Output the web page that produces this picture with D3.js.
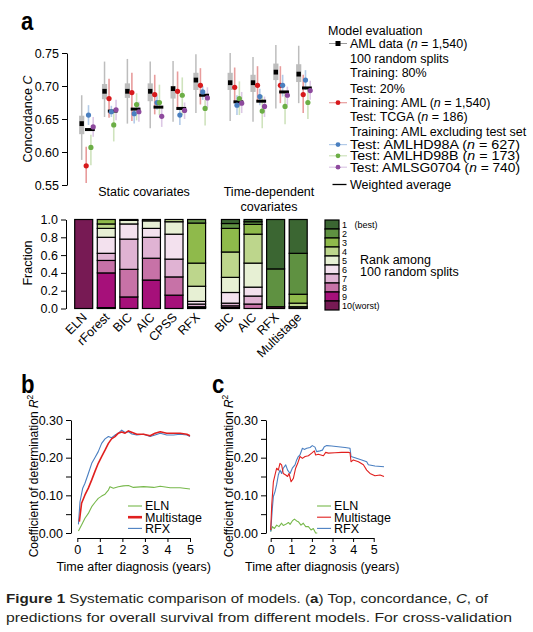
<!DOCTYPE html>
<html>
<head>
<meta charset="utf-8">
<script src="https://cdn.jsdelivr.net/npm/d3@7"></script>
<style>
  body { margin: 0; background: #fff; }
  svg { display: block; font-family: "Liberation Sans", Arial, sans-serif; }
  .axis text { font-size: 12.5px; font-family: "Liberation Sans", Arial, sans-serif; fill: #000; }
  .axis path, .axis line { stroke: #000; stroke-width: 1; }
</style>
</head>
<body>
<svg id="fig" width="533" height="632"></svg>
<script>
// ---------- panel a (top): concordance ----------
const models = ["ELN", "rForest", "BIC", "AIC", "CPSS", "RFX", "BIC", "AIC", "RFX", "Multistage"];
const covGroup = ["static", "static", "static", "static", "static", "static", "time", "time", "time", "time"];

const amlMedian = [0.643, 0.692, 0.692, 0.692, 0.696, 0.709, 0.705, 0.705, 0.721, 0.718];
const amlQ1 = [0.627, 0.680, 0.682, 0.677, 0.681, 0.694, 0.694, 0.691, 0.709, 0.706];
const amlQ3 = [0.655, 0.703, 0.704, 0.704, 0.700, 0.720, 0.720, 0.717, 0.734, 0.733];
const amlLo = [0.588, 0.653, 0.643, 0.636, 0.646, 0.659, 0.647, 0.646, 0.666, 0.674];
const amlHi = [0.686, 0.737, 0.741, 0.737, 0.738, 0.748, 0.750, 0.744, 0.762, 0.761];

const tcgaC = [0.579, 0.681, 0.690, 0.687, 0.692, 0.701, 0.698, 0.701, 0.701, 0.687];
const tcgaLo = [0.553, 0.652, 0.647, 0.657, 0.664, 0.672, 0.676, 0.676, 0.674, 0.659];
const tcgaHi = [0.608, 0.711, 0.720, 0.717, 0.722, 0.727, 0.728, 0.730, 0.730, 0.717];

const hd98aC = [0.656, 0.661, 0.658, 0.675, 0.656, 0.691, 0.671, 0.684, 0.701, 0.709];
const hd98aLo = [0.641, 0.653, 0.643, 0.664, 0.641, 0.679, 0.656, 0.671, 0.684, 0.694];
const hd98aHi = [0.671, 0.670, 0.666, 0.686, 0.666, 0.700, 0.686, 0.696, 0.717, 0.724];

const hd98bC = [0.607, 0.641, 0.672, 0.675, 0.686, 0.666, 0.681, 0.662, 0.669, 0.675];
const hd98bLo = [0.580, 0.616, 0.648, 0.656, 0.656, 0.640, 0.656, 0.636, 0.642, 0.650];
const hd98bHi = [0.626, 0.659, 0.689, 0.702, 0.713, 0.679, 0.707, 0.686, 0.691, 0.696];

const sgC = [0.638, 0.664, 0.661, 0.654, 0.663, 0.682, 0.674, 0.669, 0.686, 0.693];
const sgLo = [0.623, 0.648, 0.646, 0.638, 0.650, 0.667, 0.659, 0.653, 0.671, 0.679];
const sgHi = [0.653, 0.679, 0.676, 0.666, 0.675, 0.698, 0.691, 0.684, 0.699, 0.708];

const weightedAvg = [0.634, 0.662, 0.665, 0.668, 0.666, 0.686, 0.676, 0.677, 0.691, 0.697];

// ---------- panel a (bottom): rank fractions, rank 1 (best) .. 10 (worst) ----------
const rankFractions = [
  [0, 0, 0, 0, 0, 0, 0, 0, 0, 1],
  [0, 0, 0.05, 0.05, 0.10, 0.18, 0.08, 0.14, 0.39, 0.01],
  [0, 0, 0, 0.01, 0.04, 0.17, 0.34, 0.31, 0.13, 0],
  [0, 0, 0, 0.015, 0.085, 0.10, 0.235, 0.245, 0.32, 0],
  [0, 0, 0, 0.025, 0.14, 0.28, 0.20, 0.205, 0.15, 0],
  [0, 0.04, 0.45, 0.26, 0.17, 0.03, 0.03, 0.01, 0.01, 0],
  [0.045, 0.055, 0.265, 0.285, 0.17, 0.12, 0.03, 0.02, 0.01, 0],
  [0.025, 0.03, 0.11, 0.325, 0.27, 0.10, 0.09, 0.05, 0, 0],
  [0.555, 0.425, 0, 0, 0, 0, 0, 0, 0, 0.02],
  [0.38, 0.46, 0.10, 0.04, 0.015, 0.005, 0, 0, 0, 0],
];
const rankLabels = ["1", "2", "3", "4", "5", "6", "7", "8", "9", "10"];
const rankColors = ["#3b6632", "#5f9141", "#8fba4b", "#bdd68c", "#e7f0d4", "#f3e1ee",
  "#e0b3d3", "#c772a7", "#a6107a", "#771a54"];

// ---------- panels b, c: R2 over time [years, R2] ----------
const bRFX = [[0.05, 0.023], [0.12, 0.083], [0.24, 0.119], [0.34, 0.132], [0.49, 0.158], [0.64, 0.185],
  [0.78, 0.200], [0.93, 0.216], [1.08, 0.238], [1.23, 0.250], [1.38, 0.256], [1.52, 0.253], [1.67, 0.260],
  [1.82, 0.265], [1.97, 0.273], [2.12, 0.267], [2.27, 0.269], [2.42, 0.263], [2.64, 0.260], [2.94, 0.262],
  [3.23, 0.256], [3.45, 0.260], [3.68, 0.265], [3.97, 0.260], [4.27, 0.260], [4.56, 0.262], [4.86, 0.260],
  [5.0, 0.256]];
const bMulti = [[0.09, 0.030], [0.19, 0.079], [0.34, 0.101], [0.49, 0.119], [0.64, 0.141], [0.78, 0.163],
  [0.93, 0.185], [1.08, 0.203], [1.23, 0.220], [1.38, 0.238], [1.52, 0.250], [1.67, 0.256], [1.82, 0.265],
  [1.97, 0.268], [2.12, 0.265], [2.27, 0.271], [2.64, 0.262], [2.94, 0.262], [3.23, 0.258], [3.45, 0.265],
  [3.68, 0.269], [3.97, 0.265], [4.27, 0.265], [4.56, 0.265], [4.86, 0.262], [5.0, 0.258]];
const bELN = [[0.05, 0.005], [0.19, 0.021], [0.34, 0.039], [0.49, 0.052], [0.64, 0.070], [0.78, 0.081],
  [0.93, 0.092], [1.08, 0.098], [1.23, 0.103], [1.38, 0.114], [1.45, 0.123], [1.60, 0.119], [1.82, 0.123],
  [2.04, 0.125], [2.27, 0.126], [2.49, 0.121], [2.94, 0.123], [3.39, 0.121], [3.68, 0.124], [4.12, 0.120],
  [4.56, 0.120], [5.0, 0.117]];

const cRFX = [[0.0, 0.004], [0.08, 0.066], [0.13, 0.097], [0.21, 0.110], [0.29, 0.129], [0.37, 0.154],
  [0.45, 0.167], [0.53, 0.158], [0.61, 0.172], [0.73, 0.181], [0.82, 0.167], [0.94, 0.158], [1.05, 0.172],
  [1.18, 0.181], [1.26, 0.194], [1.34, 0.203], [1.42, 0.207], [1.54, 0.225], [1.63, 0.222], [1.75, 0.225],
  [1.91, 0.227], [2.02, 0.232], [2.15, 0.228], [2.23, 0.216], [2.39, 0.218], [2.51, 0.220], [2.60, 0.229],
  [2.72, 0.232], [2.96, 0.231], [3.28, 0.229], [3.61, 0.227], [3.85, 0.225], [3.90, 0.203], [4.09, 0.200],
  [4.42, 0.194], [4.66, 0.189], [4.74, 0.181], [5.06, 0.178], [5.5, 0.176]];
const cMulti = [[0.0, 0.008], [0.05, 0.074], [0.13, 0.136], [0.21, 0.154], [0.29, 0.172], [0.37, 0.167],
  [0.45, 0.185], [0.53, 0.181], [0.61, 0.158], [0.73, 0.154], [0.82, 0.150], [0.89, 0.158], [0.99, 0.136],
  [1.10, 0.145], [1.21, 0.172], [1.31, 0.185], [1.42, 0.203], [1.54, 0.198], [1.67, 0.203], [1.83, 0.205],
  [1.99, 0.212], [2.12, 0.218], [2.18, 0.207], [2.31, 0.209], [2.56, 0.205], [2.67, 0.214], [2.80, 0.212],
  [3.12, 0.213], [3.44, 0.214], [3.77, 0.214], [3.85, 0.213], [3.90, 0.189], [4.01, 0.194], [4.26, 0.189],
  [4.50, 0.181], [4.66, 0.167], [4.82, 0.158], [5.06, 0.152], [5.31, 0.154], [5.5, 0.150]];
const cELN = [[0.0, 0.004], [0.08, 0.017], [0.18, 0.012], [0.29, 0.021], [0.40, 0.017], [0.53, 0.026],
  [0.61, 0.020], [0.73, 0.023], [0.86, 0.028], [0.94, 0.023], [1.05, 0.032], [1.15, 0.037], [1.26, 0.032],
  [1.34, 0.030], [1.47, 0.021], [1.58, 0.026], [1.70, 0.017], [1.83, 0.017], [1.96, 0.008], [2.07, 0.012],
  [2.18, 0.0], [2.26, 0.0]];

const curveColors = { ELN: "#77b84b", Multistage: "#e0201f", RFX: "#4a7fc1" };

const svg = d3.select("#fig");
svg.append("rect").attr("width", 533).attr("height", 632).attr("fill", "#fff");

function panelLabel(txt, x, y) {
  svg.append("text").attr("transform", `translate(${x},${y}) scale(0.85,1)`)
    .attr("font-size", 26).attr("font-weight", "bold").text(txt);
}

function slotOf(i) {
  return i + (covGroup[i] === "time" ? 0.5 : 0);
}

function drawConcordance() {
  const y = d3.scaleLinear().domain([0.55, 0.75]).range([185, 53]);
  const x = d3.scaleLinear().domain([0, 9.5]).range([81.7, 298.7]);

  svg.append("g").attr("class", "axis").attr("transform", "translate(67,0)")
    .call(d3.axisLeft(y).tickValues([0.55, 0.6, 0.65, 0.7, 0.75]).tickFormat(d3.format(".2f"))
      .tickSize(5).tickSizeOuter(0));

  svg.append("text").attr("transform", "translate(32,119) rotate(-90)").attr("text-anchor", "middle")
    .attr("font-size", 12.5).html('Concordance <tspan font-style="italic">C</tspan>');

  const g = svg.append("g");
  const idx = d3.range(models.length);

  // AML cross-validation: whisker + IQR box + median square
  g.selectAll(".wh").data(idx).enter().append("line")
    .attr("x1", (i) => x(slotOf(i))).attr("x2", (i) => x(slotOf(i)))
    .attr("y1", (i) => y(amlLo[i])).attr("y2", (i) => y(amlHi[i]))
    .attr("stroke", "#bdbdbd").attr("stroke-width", 1.5);
  g.selectAll(".iqr").data(idx).enter().append("rect")
    .attr("x", (i) => x(slotOf(i)) - 2.6).attr("width", 5.2)
    .attr("y", (i) => y(amlQ3[i])).attr("height", (i) => y(amlQ1[i]) - y(amlQ3[i]))
    .attr("fill", "#bdbdbd");
  g.selectAll(".med").data(idx).enter().append("rect")
    .attr("x", (i) => x(slotOf(i)) - 2.2).attr("width", 4.4)
    .attr("y", (i) => y(amlMedian[i]) - 2.4).attr("height", 4.8)
    .attr("fill", "#000");

  const sets = [
    { c: tcgaC, lo: tcgaLo, hi: tcgaHi, dx: 4.5, line: "#e89c9c", dot: "#d7191c" },
    { c: hd98aC, lo: hd98aLo, hi: hd98aHi, dx: 6.8, line: "#b3cbe8", dot: "#4a7fc0" },
    { c: hd98bC, lo: hd98bLo, hi: hd98bHi, dx: 9.2, line: "#cfe3bd", dot: "#6cae46" },
    { c: sgC, lo: sgLo, hi: sgHi, dx: 11.5, line: "#dcc8e5", dot: "#8e4a9e" },
  ];

  sets.forEach((s) => {
    g.append("g").selectAll("line").data(idx).enter().append("line")
      .attr("x1", (i) => x(slotOf(i)) + s.dx).attr("x2", (i) => x(slotOf(i)) + s.dx)
      .attr("y1", (i) => y(s.lo[i])).attr("y2", (i) => y(s.hi[i]))
      .attr("stroke", s.line).attr("stroke-width", 1.6);
  });

  g.selectAll(".avg").data(idx).enter().append("rect")
    .attr("x", (i) => x(slotOf(i)) + 3.3).attr("width", 9.8)
    .attr("y", (i) => y(weightedAvg[i]) - 1.5).attr("height", 3)
    .attr("fill", "#000");

  sets.forEach((s) => {
    g.append("g").selectAll("circle").data(idx).enter().append("circle")
      .attr("cx", (i) => x(slotOf(i)) + s.dx).attr("cy", (i) => y(s.c[i]))
      .attr("r", 2.6).attr("fill", s.dot);
  });

  svg.append("text").attr("x", 144).attr("y", 196).attr("text-anchor", "middle")
    .attr("font-size", 12.5).text("Static covariates");
  svg.append("text").attr("x", 269).attr("y", 196).attr("text-anchor", "middle")
    .attr("font-size", 12.5).text("Time-dependent");
  svg.append("text").attr("x", 269).attr("y", 211).attr("text-anchor", "middle")
    .attr("font-size", 12.5).text("covariates");

  drawTopLegend();
}

function drawTopLegend() {
  const lg = svg.append("g").attr("font-size", 12.5);
  const tx = 350, sx = 338;
  lg.append("text").attr("x", 328).attr("y", 34.5).text("Model evaluation");

  const rows = [
    { y: 43.5, html: 'AML data (<tspan font-style="italic">n</tspan> = 1,540)', sym: "aml" },
    { y: 58.5, html: "100 random splits" },
    { y: 73, html: "Training: 80%" },
    { y: 88.5, html: "Test: 20%" },
    { y: 102.7, html: 'Training: AML (<tspan font-style="italic">n</tspan> = 1,540)', sym: "dot", line: "#e89c9c", dot: "#d7191c" },
    { y: 117, html: 'Test: TCGA (<tspan font-style="italic">n</tspan> = 186)' },
    { y: 131.3, html: "Training: AML excluding test set" },
    { y: 144.6, html: 'Test: AMLHD98A (<tspan font-style="italic">n</tspan> = 627)', sym: "dot", line: "#b3cbe8", dot: "#4a7fc0", fs: 12 },
    { y: 155.8, html: 'Test: AMLHD98B (<tspan font-style="italic">n</tspan> = 173)', sym: "dot", line: "#cfe3bd", dot: "#6cae46", fs: 12 },
    { y: 167.2, html: 'Test: AMLSG0704 (<tspan font-style="italic">n</tspan> = 740)', sym: "dot", line: "#dcc8e5", dot: "#8e4a9e", fs: 12 },
    { y: 184.5, html: "Weighted average", sym: "avg" },
  ];

  rows.forEach((r) => {
    const t = lg.append("text").attr("x", tx).attr("y", r.y + 4.4).html(r.html);
    if (r.fs) t.attr("font-size", r.fs).attr("textLength", 170).attr("lengthAdjust", "spacingAndGlyphs");
    if (r.sym === "aml") {
      lg.append("line").attr("x1", 329).attr("x2", 347).attr("y1", r.y).attr("y2", r.y)
        .attr("stroke", "#9a9a9a").attr("stroke-width", 1);
      lg.append("rect").attr("x", sx - 2.5).attr("y", r.y - 2.5).attr("width", 5).attr("height", 5).attr("fill", "#000");
    } else if (r.sym === "dot") {
      lg.append("line").attr("x1", 329).attr("x2", 347).attr("y1", r.y).attr("y2", r.y)
        .attr("stroke", r.line).attr("stroke-width", 1.2);
      lg.append("circle").attr("cx", sx).attr("cy", r.y).attr("r", 2.4).attr("fill", r.dot);
    } else if (r.sym === "avg") {
      lg.append("line").attr("x1", 332.5).attr("x2", 346.5).attr("y1", r.y).attr("y2", r.y)
        .attr("stroke", "#000").attr("stroke-width", 1.3);
    }
  });
}

function drawRanks() {
  const y = d3.scaleLinear().domain([0, 1]).range([308.5, 219.5]);
  const x = d3.scaleLinear().domain([0, 9.5]).range([83.7, 298.2]);
  const w = 18;

  svg.append("g").attr("class", "axis").attr("transform", "translate(66,0)")
    .call(d3.axisLeft(y).tickValues([0, 0.2, 0.4, 0.6, 0.8, 1]).tickFormat(d3.format(".1f"))
      .tickSize(5).tickSizeOuter(0));

  svg.append("text").attr("transform", "translate(32,263) rotate(-90)").attr("text-anchor", "middle")
    .attr("font-size", 12.5).text("Fraction");

  rankFractions.forEach((fr, i) => {
    // stack worst rank at the bottom
    let acc = 0;
    const segs = [];
    for (let r = 9; r >= 0; r--) {
      if (fr[r] > 0) segs.push({ r: r, y0: acc, y1: acc + fr[r] });
      acc += fr[r];
    }
    svg.append("g").selectAll("rect").data(segs).enter().append("rect")
      .attr("x", x(slotOf(i)) - w / 2).attr("width", w)
      .attr("y", (d) => y(d.y1)).attr("height", (d) => y(d.y0) - y(d.y1))
      .attr("fill", (d) => rankColors[d.r])
      .attr("stroke", "#000").attr("stroke-width", 1.2);
  });

  svg.append("g").selectAll("text").data(models).enter().append("text")
    .attr("transform", (d, i) => `translate(${x(slotOf(i)) + 4},318) rotate(-45)`)
    .attr("text-anchor", "end").attr("font-size", 12.5).text((d) => d);

  // colour key
  const ky = d3.scaleBand().domain(rankLabels).range([220, 310]);
  const key = svg.append("g");
  key.selectAll("rect").data(rankLabels).enter().append("rect")
    .attr("x", 325).attr("width", 14).attr("y", (d) => ky(d)).attr("height", ky.bandwidth())
    .attr("fill", (d, i) => rankColors[i]).attr("stroke", "#000").attr("stroke-width", 1.2);
  key.selectAll("text").data(rankLabels).enter().append("text")
    .attr("x", 342).attr("y", (d) => ky(d) + ky.bandwidth() / 2 + 3.3)
    .attr("font-size", 9)
    .attr("xml:space", "preserve")
    .text((d) => (d === "1" ? "1   (best)" : d === "10" ? "10(worst)" : d));
  svg.append("text").attr("x", 360).attr("y", 263.5).attr("font-size", 12.5).text("Rank among");
  svg.append("text").attr("x", 360).attr("y", 275.5).attr("font-size", 12.5).text("100 random splits");
}

function drawR2Panel(x0, xRange, series, thickMulti) {
  const x = d3.scaleLinear().domain([0, 5]).range(xRange);
  const y = d3.scaleLinear().domain([0, 0.3]).range([533, 420]);

  svg.append("g").attr("class", "axis").attr("transform", `translate(${x0},0)`)
    .call(d3.axisLeft(y).tickValues([0, 0.05, 0.1, 0.15, 0.2, 0.25, 0.3])
      .tickFormat((d) => (Math.round(d * 100) % 10 === 0 ? d3.format(".2f")(d) : ""))
      .tickSize(5).tickSizeOuter(0));
  svg.append("g").attr("class", "axis").attr("transform", "translate(0,538)")
    .call(d3.axisBottom(x).tickValues([0, 1, 2, 3, 4, 5]).tickFormat(d3.format("d"))
      .tickSize(4).tickSizeOuter(0));

  svg.append("text").attr("x", (xRange[0] + xRange[1]) / 2).attr("y", 571)
    .attr("text-anchor", "middle").attr("font-size", 12.5).text("Time after diagnosis (years)");
  svg.append("text").attr("transform", `translate(${x0 - 33},476) rotate(-90)`)
    .attr("text-anchor", "middle").attr("font-size", 12)
    .html('Coefficient of determination <tspan font-style="italic">R</tspan><tspan dy="-5" font-size="8.5">2</tspan>');

  const line = d3.line().x((d) => x(d[0])).y((d) => y(d[1]));
  series.forEach((s) => {
    svg.append("path").datum(s.data).attr("d", line)
      .attr("fill", "none").attr("stroke", curveColors[s.name])
      .attr("stroke-width", s.name === "Multistage" && thickMulti ? 1.6 : 1.1)
      .attr("stroke-linejoin", "round");
  });

  const names = ["ELN", "Multistage", "RFX"];
  const lx = x(2.25);
  names.forEach((n, k) => {
    const ly = 506 + k * 11.2;
    svg.append("line").attr("x1", lx).attr("x2", lx + 14).attr("y1", ly).attr("y2", ly)
      .attr("stroke", curveColors[n])
      .attr("stroke-width", n === "Multistage" && thickMulti ? 2.6 : 1.1);
    svg.append("text").attr("x", lx + 17).attr("y", ly + 4.3).attr("font-size", 12.5).text(n);
  });
}

function drawCaption() {
  const cap = svg.append("g").attr("fill", "#231f20").attr("font-size", 13.5);
  cap.append("text").attr("x", 6).attr("y", 603).attr("textLength", 482).attr("lengthAdjust", "spacingAndGlyphs")
    .html('<tspan font-weight="bold">Figure 1</tspan>  Systematic comparison of models. (<tspan font-weight="bold">a</tspan>) Top, concordance, <tspan font-style="italic">C</tspan>, of');
  cap.append("text").attr("x", 6).attr("y", 621.5).attr("textLength", 506).attr("lengthAdjust", "spacingAndGlyphs")
    .text("predictions for overall survival from different models. For cross-validation");
}

panelLabel("a", 21, 30);
drawConcordance();
drawRanks();
panelLabel("b", 21, 393);
drawR2Panel(71, [77.3, 190], [
  { name: "ELN", data: bELN },
  { name: "RFX", data: bRFX },
  { name: "Multistage", data: bMulti },
], true);
panelLabel("c", 212, 393);
drawR2Panel(266, [270.7, 373.7], [
  { name: "ELN", data: cELN },
  { name: "RFX", data: cRFX },
  { name: "Multistage", data: cMulti },
], false);
drawCaption();
</script>
</body>
</html>
